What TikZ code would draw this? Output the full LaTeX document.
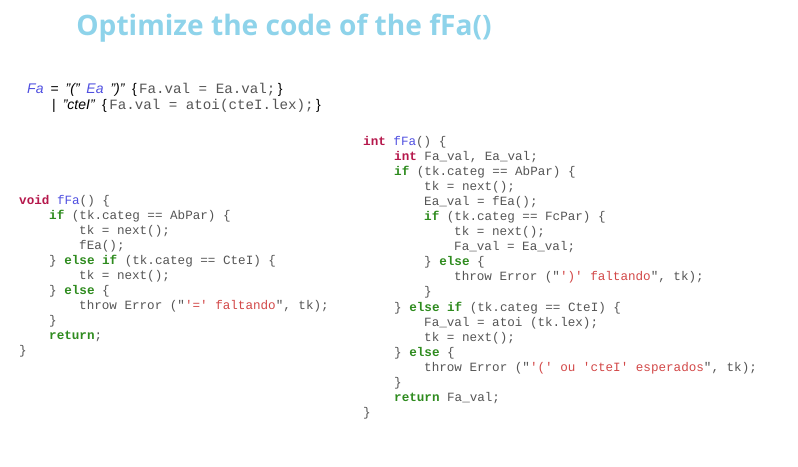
\documentclass[tikz,border=0pt]{standalone}
\usepackage{fontspec}
\setmainfont{Liberation Sans}
\newfontfamily\codefont{Liberation Mono}
\newfontfamily\titlefont{Open Sans}
\definecolor{titlec}{HTML}{8ED3EA}
\definecolor{codec}{HTML}{555555}
\definecolor{kwc}{HTML}{2E8B1E}
\definecolor{tyc}{HTML}{B5174B}
\definecolor{fnc}{HTML}{5050E0}
\definecolor{strc}{HTML}{D24848}
\newcommand{\kw}[1]{\textcolor{kwc}{\bfseries #1}}
\newcommand{\ty}[1]{\textcolor{tyc}{\bfseries #1}}
\newcommand{\fn}[1]{\textcolor{fnc}{#1}}
\newcommand{\str}[1]{\textcolor{strc}{#1}}
\newcommand{\gc}[1]{{\codefont\fontsize{14.2}{15}\selectfont\color{codec}#1}}
\begin{document}
\begin{tikzpicture}[x=1pt,y=-1pt,
  cl/.style={anchor=base west,inner sep=0pt,font=\codefont\fontsize{12.6}{14}\selectfont,text=codec},
  gl/.style={anchor=base west,inner sep=0pt,font=\fontsize{14}{15}\selectfont}]
\useasboundingbox (0,0) rectangle (798,466);
\node[anchor=center,inner sep=0pt,text=titlec,font=\titlefont\bfseries\fontsize{28.1}{30}\selectfont] (title) at (284,28) {Optimize the code of the fFa()};
% grammar
\node[gl] (g1) at (27,93) {\textcolor{fnc}{\itshape Fa}\enspace=\enspace\textit{"(" }\,\textcolor{fnc}{\itshape Ea}\enspace\textit{")"}\enspace\{\,\gc{Fa.val = Ea.val;}\,\}};
\node[gl] (g2) at (52,109) {|\enspace\textit{"cteI"}\enspace\{\,\gc{Fa.val = atoi(cteI.lex);}\,\}};
% left code
\node[cl] (l1) at (19,204) {\ty{void} \fn{fFa}() \{};
\node[cl] (l2) at (49,219) {\kw{if} (tk.categ == AbPar) \{};
\node[cl] (l3) at (79,234) {tk = next();};
\node[cl] (l4) at (79,249) {fEa();};
\node[cl] (l5) at (49,264) {\} \kw{else if} (tk.categ == CteI) \{};
\node[cl] (l6) at (79,279) {tk = next();};
\node[cl] (l7) at (49,294) {\} \kw{else} \{};
\node[cl] (l8) at (79,309) {throw Error ("\str{'=' faltando}", tk);};
\node[cl] (l9) at (49,324) {\}};
\node[cl] (l10) at (49,339) {\kw{return};};
\node[cl] (l11) at (19,354) {\}};
% right code
\node[cl] (r1) at (363,145) {\ty{int} \fn{fFa}() \{};
\node[cl] (r2) at (394,160) {\ty{int} Fa\_val, Ea\_val;};
\node[cl] (r3) at (394,175) {\kw{if} (tk.categ == AbPar) \{};
\node[cl] (r4) at (424,190) {tk = next();};
\node[cl] (r5) at (424,205) {Ea\_val = fEa();};
\node[cl] (r6) at (424,220) {\kw{if} (tk.categ == FcPar) \{};
\node[cl] (r7) at (454,235) {tk = next();};
\node[cl] (r8) at (454,250) {Fa\_val = Ea\_val;};
\node[cl] (r9) at (424,265) {\} \kw{else} \{};
\node[cl] (r10) at (454,280) {throw Error ("\str{')' faltando}", tk);};
\node[cl] (r11) at (424,295) {\}};
\node[cl] (r12) at (394,311) {\} \kw{else if} (tk.categ == CteI) \{};
\node[cl] (r13) at (424,326) {Fa\_val = atoi (tk.lex);};
\node[cl] (r14) at (424,341) {tk = next();};
\node[cl] (r15) at (394,356) {\} \kw{else} \{};
\node[cl] (r16) at (424,371) {throw Error ("\str{'(' ou 'cteI' esperados}", tk);};
\node[cl] (r17) at (394,386) {\}};
\node[cl] (r18) at (394,401) {\kw{return} Fa\_val;};
\node[cl] (r19) at (363,416) {\}};
\end{tikzpicture}
\end{document}
